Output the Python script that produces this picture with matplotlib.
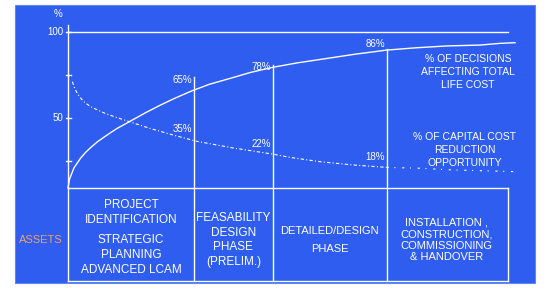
import matplotlib
matplotlib.use("Agg")
import matplotlib.pyplot as plt
from matplotlib.patches import Rectangle

# decisions affecting total life cost (x = project progress, y = %)
dec_x = [0, 0.35, 1.36, 2.9, 4.0, 5.15, 6.6, 8.2, 9.7, 11.2, 12.9, 14.6, 17.8, 21.0, 24.3,
         27.7, 32.0, 36.8, 41.5, 46.6, 52.0, 58.0, 65.0, 72.5, 79.0, 86.1, 93.6, 98.2, 101.6]
dec_y = [9.3, 14.5, 21.0, 26.8, 30.0, 32.8, 36.0, 38.9, 41.5, 44.0, 46.4, 48.8, 53.3, 57.5, 61.5,
         65.3, 69.5, 73.0, 76.5, 79.5, 82.0, 84.3, 87.0, 89.5, 90.8, 91.9, 92.4, 93.4, 93.8]

# capital cost reduction opportunity
cap_x = [1.0, 1.5, 2.1, 2.8, 3.6, 5.0, 6.7, 8.5, 10.5, 13.9, 18.6, 23.9, 29.2, 37.5, 46.6,
         50.5, 57.3, 64.8, 72.4]
cap_y = [71.1, 67.5, 64.4, 61.8, 59.5, 56.8, 54.7, 52.6, 50.8, 47.9, 44.0, 40.1, 36.5, 32.6, 29.0,
         27.1, 24.6, 22.7, 21.3]
cap_tail_x = [72.4, 80.0, 87.5, 102.0]
cap_tail_y = [21.3, 20.8, 19.8, 18.8]

# phase boundaries and marked values
phase_x = [28.6, 46.6, 72.4]
phase_top = [73.8, 81.0, 90.1]
dec_labels = ["65%", "78%", "86%"]
cap_labels = ["35%", "22%", "18%"]
y_ticks = [100, 75, 50, 25]
y_ticklabels = ["100", "", "50", ""]

phase_text = [
    ["PROJECT\nIDENTIFICATION", "STRATEGIC\nPLANNING\nADVANCED LCAM"],
    ["FEASABILITY\nDESIGN\nPHASE\n(PRELIM.)"],
    ["DETAILED/DESIGN", "PHASE"],
    ["INSTALLATION ,\nCONSTRUCTION,\nCOMMISSIONING\n& HANDOVER"],
]

BLUE = "#2E5DF0"
W = "white"
plt.rcParams["font.family"] = ["Liberation Sans", "DejaVu Sans"]

fig = plt.figure(figsize=(5.52, 2.89), dpi=100)
fig.patches.append(Rectangle((15 / 552, 1 - 283 / 289), 520 / 552, 278 / 289,
                             transform=fig.transFigure, facecolor=BLUE,
                             edgecolor="#5f86f5", lw=0.8, zorder=-10))
ax = fig.add_axes([0, 0, 1, 1])
ax.set_xlim(-15.45, 110.0)
ax.set_ylim(-49.4, 118.6)
ax.axis("off")
ax.patch.set_alpha(0)

box_top, box_bot = 9.3, -44.8

# frame
ax.plot([0, 0], [104.1, box_bot], color=W, lw=1.0)
ax.plot([0, 100], [100, 100], color=W, lw=1.0)
ax.plot([0, 100], [box_top, box_top], color=W, lw=1.0)
ax.plot([0, 100], [box_bot, box_bot], color=W, lw=1.0)
ax.plot([100, 100], [box_top, box_bot], color=W, lw=1.0)
for xp, top in zip(phase_x, phase_top):
    ax.plot([xp, xp], [top, box_bot], color=W, lw=1.0)

# y ticks
for t, lab in zip(y_ticks, y_ticklabels):
    ax.plot([-0.5, 0.7], [t, t], color=W, lw=1.0)
    if lab:
        ax.text(-1.0, t, lab, color=W, fontsize=7, ha="right", va="center")
ax.text(-2.3, 110.5, "%", color=W, fontsize=7, ha="center", va="center")

# curves
ax.plot(dec_x, dec_y, color=W, lw=1.0)
ax.plot(cap_x, cap_y, color=W, lw=0.8, linestyle=(0, (3, 2, 1, 2)))
ax.plot(cap_tail_x, cap_tail_y, color=W, lw=0.8, linestyle=(0, (2, 5, 1, 6)))

# value labels
dec_lab_y = [72.1, 79.7, 93.0]
cap_lab_y = [43.6, 34.9, 27.3]
for xp, lab, ly in zip(phase_x, dec_labels, dec_lab_y):
    ax.text(xp - 0.4, ly, lab, color=W, fontsize=7, ha="right", va="center")
for xp, lab, ly in zip(phase_x, cap_labels, cap_lab_y):
    ax.text(xp - 0.4, ly, lab, color=W, fontsize=7, ha="right", va="center")

ax.text(90.9, 76.7, "% OF DECISIONS\nAFFECTING TOTAL\nLIFE COST", color=W,
        fontsize=7.5, ha="center", va="center", linespacing=1.35)
ax.text(90.2, 31.4, "% OF CAPITAL COST\nREDUCTION\nOPPORTUNITY", color=W,
        fontsize=7.5, ha="center", va="center", linespacing=1.35)

# phase box texts
ax.text(14.3, -4.9, phase_text[0][0], color=W, fontsize=8.5, ha="center", va="center", linespacing=1.35)
ax.text(14.3, -29.7, phase_text[0][1], color=W, fontsize=8.5, ha="center", va="center", linespacing=1.3)
ax.text(37.6, -20.9, phase_text[1][0], color=W, fontsize=8.5, ha="center", va="center", linespacing=1.3)
ax.text(59.5, -15.7, phase_text[2][0], color=W, fontsize=8, ha="center", va="center")
ax.text(59.5, -26.2, phase_text[2][1], color=W, fontsize=8, ha="center", va="center")
ax.text(86.1, -20.9, phase_text[3][0], color=W, fontsize=8, ha="center", va="center", linespacing=1.2)
ax.text(-6.1, -20.9, "ASSETS", color="#F0A070", fontsize=8, ha="center", va="center")

fig.savefig("out.png", dpi=100, facecolor="white")
